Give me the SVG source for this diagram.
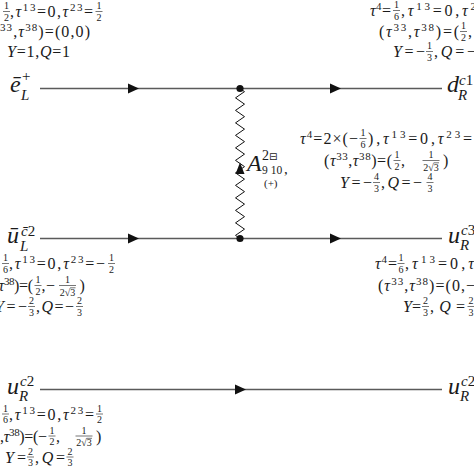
<svg xmlns="http://www.w3.org/2000/svg" xmlns:xlink="http://www.w3.org/1999/xlink" width="474" height="474" viewBox="0 0 474 474">
<style>
.t{font-family:"Liberation Serif","Times New Roman",serif;font-size:16px;fill:#1a1a1a}
.i{font-style:italic}
.s{font-size:11px}
.fn{font-family:"Liberation Serif","Times New Roman",serif;font-size:10px;text-anchor:middle;fill:#1a1a1a}
.fb{stroke:#1a1a1a;stroke-width:0.6}
.big{font-family:"Liberation Serif","Times New Roman",serif;font-size:24px;font-style:italic;fill:#1a1a1a}
.sc{font-family:"Liberation Serif","Times New Roman",serif;font-size:15px;fill:#1a1a1a}
.ln{stroke:#5a5a5a;stroke-width:1.6;fill:none}
.wg{stroke:#111;stroke-width:1;fill:none}
.ah{fill:#111}
</style>
<defs>
<g id="f12"><text class="fn" y="-8">1</text><line class="fb" x1="-3.5" y1="-5.5" x2="3.5" y2="-5.5"/><text class="fn" y="3.5">2</text></g>
<g id="f16"><text class="fn" y="-8">1</text><line class="fb" x1="-3.5" y1="-5.5" x2="3.5" y2="-5.5"/><text class="fn" y="3.5">6</text></g>
<g id="f13"><text class="fn" y="-8">1</text><line class="fb" x1="-3.5" y1="-5.5" x2="3.5" y2="-5.5"/><text class="fn" y="3.5">3</text></g>
<g id="f23"><text class="fn" y="-8">2</text><line class="fb" x1="-3.5" y1="-5.5" x2="3.5" y2="-5.5"/><text class="fn" y="3.5">3</text></g>
<g id="f43"><text class="fn" y="-8">4</text><line class="fb" x1="-3.5" y1="-5.5" x2="3.5" y2="-5.5"/><text class="fn" y="3.5">3</text></g>
<g id="f1r3"><text class="fn" y="-8">1</text><line class="fb" x1="-8.5" y1="-5.5" x2="8.5" y2="-5.5"/><text class="fn" y="4.5">2√3</text><line class="fb" x1="2.6" y1="-3.2" x2="8" y2="-3.2"/></g>
</defs>

<g id="connectors">
<line class="ln" x1="40" y1="88.5" x2="442" y2="88.5"/>
<line class="ln" x1="40" y1="238.5" x2="442" y2="238.5"/>
<line class="ln" x1="40" y1="389.5" x2="442" y2="389.5"/>
<polygon class="ah" points="139,88.5 128,83.5 128,93.5"/>
<polygon class="ah" points="341,88.5 330,83.5 330,93.5"/>
<polygon class="ah" points="139,238.5 128,233.5 128,243.5"/>
<polygon class="ah" points="341,238.5 330,233.5 330,243.5"/>
<polygon class="ah" points="246,389.5 235,384.5 235,394.5"/>
<path class="wg" d="M240,88.5
 l4.5,3.125 l-9,6.25 l4.5,3.125
 l4.5,3.125 l-9,6.25 l4.5,3.125
 l4.5,3.125 l-9,6.25 l4.5,3.125
 l4.5,3.125 l-9,6.25 l4.5,3.125
 l4.5,3.125 l-9,6.25 l4.5,3.125
 l4.5,3.125 l-9,6.25 l4.5,3.125
 l4.5,3.125 l-9,6.25 l4.5,3.125
 l4.5,3.125 l-9,6.25 l4.5,3.125
 l4.5,3.125 l-9,6.25 l4.5,3.125
 l4.5,3.125 l-9,6.25 l4.5,3.125
 l4.5,3.125 l-9,6.25 l4.5,3.125
 l4.5,3.125 l-9,6.25 l4.5,3.125"/>
<polygon class="ah" points="240,162.5 235.5,174 244.5,174"/>
</g>

<g id="vertex-top"><circle cx="240" cy="88.5" r="3.6" fill="#111"/></g>
<g id="vertex-bottom"><circle cx="240" cy="238.5" r="3.6" fill="#111"/></g>

<g id="node-eL">
<text class="big" x="10" y="92">ē</text>
<text class="sc" x="22" y="81">+</text>
<text class="sc i" x="21" y="100">L</text>
<use xlink:href="#f12" x="6.5" y="17"/>
<text class="t" x="10" y="17" textLength="83" lengthAdjust="spacing">,<tspan class="i">τ</tspan><tspan class="s" dy="-6">13</tspan><tspan dy="6">=0,</tspan><tspan class="i">τ</tspan><tspan class="s" dy="-6">23</tspan><tspan dy="6">=</tspan></text>
<use xlink:href="#f12" x="99" y="17"/>
<text class="t" x="0" y="37" textLength="90" lengthAdjust="spacing"><tspan class="s" dy="-6">33</tspan><tspan dy="6">,</tspan><tspan class="i">τ</tspan><tspan class="s" dy="-6">38</tspan><tspan dy="6">)=(0,0)</tspan></text>
<text class="t" x="7" y="57" textLength="63" lengthAdjust="spacing"><tspan class="i">Y</tspan>=1,<tspan class="i">Q</tspan>=1</text>
</g>

<g id="node-dR-c1">
<text class="big" x="447" y="92">d</text>
<text class="sc i" x="459" y="85">c<tspan font-style="normal">1</tspan></text>
<text class="sc i" x="458" y="100">R</text>
<text class="t" x="370" y="16" textLength="21" lengthAdjust="spacing"><tspan class="i">τ</tspan><tspan class="s" dy="-6">4</tspan><tspan dy="6">=</tspan></text>
<use xlink:href="#f16" x="396.5" y="16"/>
<text class="t" x="401" y="16" textLength="75" lengthAdjust="spacing">,<tspan class="i">τ</tspan><tspan class="s" dy="-6">13</tspan><tspan dy="6">=0,</tspan><tspan class="i">τ</tspan><tspan class="s" dy="-6">2</tspan></text>
<text class="t" x="379" y="37" textLength="80" lengthAdjust="spacing">(<tspan class="i">τ</tspan><tspan class="s" dy="-6">33</tspan><tspan dy="6">,</tspan><tspan class="i">τ</tspan><tspan class="s" dy="-6">38</tspan><tspan dy="6">)=(</tspan></text>
<use xlink:href="#f12" x="463.5" y="37"/>
<text class="t" x="468" y="37">,</text>
<text class="t" x="393" y="57" textLength="32" lengthAdjust="spacing"><tspan class="i">Y</tspan>=−</text>
<use xlink:href="#f13" x="429.5" y="57"/>
<text class="t" x="434" y="57" textLength="42" lengthAdjust="spacing">,<tspan class="i">Q</tspan>=−</text>
</g>

<g id="node-A">
<text class="big" x="247" y="171">A<tspan font-style="normal" font-size="14" x="262" y="160">2</tspan><tspan font-style="normal" font-family="DejaVu Sans, sans-serif" font-size="10">⊟</tspan><tspan font-style="normal" font-size="11.5" x="262" y="174">9 10</tspan><tspan font-style="normal" font-size="15" x="284" y="173.5">,</tspan><tspan font-style="normal" font-size="11" x="264" y="187">(+)</tspan></text>
<text class="t" x="300" y="144" textLength="58" lengthAdjust="spacing"><tspan class="i">τ</tspan><tspan class="s" dy="-6">4</tspan><tspan dy="6">=2×(−</tspan></text>
<use xlink:href="#f16" x="363" y="144"/>
<text class="t" x="368" y="144" textLength="104" lengthAdjust="spacing">),<tspan class="i">τ</tspan><tspan class="s" dy="-6">13</tspan><tspan dy="6">=0,</tspan><tspan class="i">τ</tspan><tspan class="s" dy="-6">23</tspan><tspan dy="6">=</tspan></text>
<text class="t" x="324" y="166" textLength="68" lengthAdjust="spacing">(<tspan class="i">τ</tspan><tspan class="s" dy="-6">33</tspan><tspan dy="6">,</tspan><tspan class="i">τ</tspan><tspan class="s" dy="-6">38</tspan><tspan dy="6">)=(</tspan></text>
<use xlink:href="#f12" x="397" y="166"/>
<text class="t" x="401" y="166">,</text>
<use xlink:href="#f1r3" x="431" y="166"/>
<text class="t" x="443" y="166">)</text>
<text class="t" x="340" y="188" textLength="32" lengthAdjust="spacing"><tspan class="i">Y</tspan>=−</text>
<use xlink:href="#f43" x="376.5" y="188"/>
<text class="t" x="381" y="188" textLength="41" lengthAdjust="spacing">,<tspan class="i">Q</tspan>=−</text>
<use xlink:href="#f43" x="430" y="188"/>
</g>

<g id="node-uL-c2bar">
<text class="big" x="7" y="243">ū</text>
<text class="sc i" x="21" y="236">c̄<tspan font-style="normal">2</tspan></text>
<text class="sc i" x="20" y="251">L</text>
<use xlink:href="#f16" x="5.5" y="269"/>
<text class="t" x="9" y="269" textLength="96" lengthAdjust="spacing">,<tspan class="i">τ</tspan><tspan class="s" dy="-6">13</tspan><tspan dy="6">=0,</tspan><tspan class="i">τ</tspan><tspan class="s" dy="-6">23</tspan><tspan dy="6">=−</tspan></text>
<use xlink:href="#f12" x="111.5" y="269"/>
<text class="t" x="-5" y="291" textLength="38" lengthAdjust="spacing">,<tspan class="i">τ</tspan><tspan class="s" dy="-6">38</tspan><tspan dy="6">)=(</tspan></text>
<use xlink:href="#f12" x="38" y="291"/>
<text class="t" x="41.5" y="291" textLength="13.5" lengthAdjust="spacing">,−</text>
<use xlink:href="#f1r3" x="67.5" y="291"/>
<text class="t" x="79.5" y="291">)</text>
<text class="t" x="-5" y="312" textLength="32" lengthAdjust="spacing"><tspan class="i">Y</tspan>=−</text>
<use xlink:href="#f23" x="31.5" y="312"/>
<text class="t" x="36" y="312" textLength="38" lengthAdjust="spacing">,<tspan class="i">Q</tspan>=−</text>
<use xlink:href="#f23" x="79.5" y="312"/>
</g>

<g id="node-uR-c3">
<text class="big" x="448" y="242.5">u</text>
<text class="sc i" x="461" y="235">c<tspan font-style="normal">3</tspan></text>
<text class="sc i" x="460" y="250">R</text>
<text class="t" x="375" y="269" textLength="22" lengthAdjust="spacing"><tspan class="i">τ</tspan><tspan class="s" dy="-6">4</tspan><tspan dy="6">=</tspan></text>
<use xlink:href="#f16" x="401" y="269"/>
<text class="t" x="405" y="269" textLength="69" lengthAdjust="spacing">,<tspan class="i">τ</tspan><tspan class="s" dy="-6">13</tspan><tspan dy="6">=0,</tspan><tspan class="i">τ</tspan></text>
<text class="t" x="378" y="291" textLength="97" lengthAdjust="spacing">(<tspan class="i">τ</tspan><tspan class="s" dy="-6">33</tspan><tspan dy="6">,</tspan><tspan class="i">τ</tspan><tspan class="s" dy="-6">38</tspan><tspan dy="6">)=(0,−</tspan></text>
<text class="t" x="403" y="312"><tspan class="i">Y</tspan>=</text>
<use xlink:href="#f23" x="425.5" y="312"/>
<text class="t" x="430" y="312" textLength="35" lengthAdjust="spacing">,<tspan class="i">Q</tspan>=</text>
<use xlink:href="#f23" x="471" y="312"/>
</g>

<g id="node-uR-c2-left">
<text class="big" x="7" y="394">u</text>
<text class="sc i" x="20" y="385.5">c<tspan font-style="normal">2</tspan></text>
<text class="sc i" x="19" y="401">R</text>
<use xlink:href="#f16" x="5.5" y="419.5"/>
<text class="t" x="9" y="419.5" textLength="85" lengthAdjust="spacing">,<tspan class="i">τ</tspan><tspan class="s" dy="-6">13</tspan><tspan dy="6">=0,</tspan><tspan class="i">τ</tspan><tspan class="s" dy="-6">23</tspan><tspan dy="6">=</tspan></text>
<use xlink:href="#f12" x="99.5" y="419.5"/>
<text class="t" x="0" y="441.5" textLength="47" lengthAdjust="spacing">,<tspan class="i">τ</tspan><tspan class="s" dy="-6">38</tspan><tspan dy="6">)=(−</tspan></text>
<use xlink:href="#f12" x="52" y="441.5"/>
<text class="t" x="56" y="441.5">,</text>
<use xlink:href="#f1r3" x="84" y="441.5"/>
<text class="t" x="96" y="441.5">)</text>
<text class="t" x="5" y="462.5" textLength="21" lengthAdjust="spacing"><tspan class="i">Y</tspan>=</text>
<use xlink:href="#f23" x="30.5" y="462.5"/>
<text class="t" x="35" y="462.5" textLength="30" lengthAdjust="spacing">,<tspan class="i">Q</tspan>=</text>
<use xlink:href="#f23" x="70" y="462.5"/>
</g>

<g id="node-uR-c2-right">
<text class="big" x="448" y="394">u</text>
<text class="sc i" x="461" y="386">c<tspan font-style="normal">2</tspan></text>
<text class="sc i" x="460" y="401">R</text>
</g>
</svg>
